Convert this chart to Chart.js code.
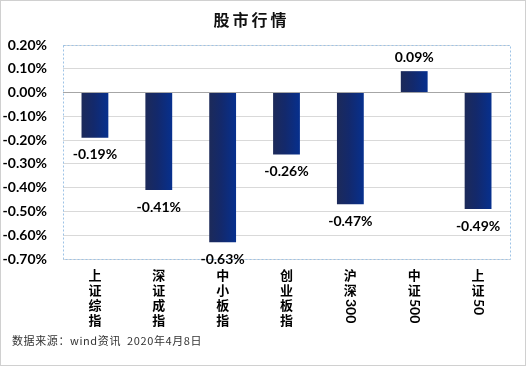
<!DOCTYPE html>
<html>
<head>
<meta charset="utf-8">
<script src="https://cdn.jsdelivr.net/npm/chart.js@4.4.1/dist/chart.umd.min.js"></script>
<style>
    html, body { margin: 0; padding: 0; background: #fff; }
    canvas { display: block; }
</style>
</head>
<body>
<canvas id="market-chart" width="526" height="366"></canvas>
<script>
// Chart data
const categories = ['上证综指', '深证成指', '中小板指', '创业板指', '沪深300', '中证500', '上证50'];
const changes = [-0.19, -0.41, -0.63, -0.26, -0.47, 0.09, -0.49];
const yTickMin = -0.7;
const yTickMax = 0.2;
const yTickStep = 0.1;
const chartTitle = '股市行情';
const footnote = '数据来源：wind资讯  2020年4月8日';

const CJK = '"Noto Sans CJK SC", "Noto Sans", sans-serif';
const LATIN = 'Lato, "Open Sans", sans-serif';

function fmtPct(v) {
    if (Math.abs(v) < 1e-9) v = 0;
    return v.toFixed(2) + '%';
}

function barGradient(context) {
    const chart = context.chart;
    if (!chart.chartArea) return '#0f2b78';
    const x = chart.scales.x.getPixelForValue(context.dataIndex);
    const g = chart.ctx.createLinearGradient(x - 14, 0, x + 14, 0);
    g.addColorStop(0, '#1d2a58');
    g.addColorStop(0.45, '#13296c');
    g.addColorStop(1, '#06308f');
    return g;
}

// Title, frame, dashed plot border, value labels, vertical category labels, footnote
const decorPlugin = {
    id: 'decor',
    beforeDraw(chart) {
        const ctx = chart.ctx;
        ctx.save();
        ctx.fillStyle = '#fff';
        ctx.fillRect(0, 0, chart.width, chart.height);
        ctx.restore();
    },
    afterDatasetsDraw(chart) {
        const ctx = chart.ctx;
        const area = chart.chartArea;
        ctx.save();

        // dashed plot-area border
        ctx.strokeStyle = '#9dc3e6';
        ctx.lineWidth = 1;
        ctx.setLineDash([2, 2]);
        ctx.strokeRect(Math.round(area.left) + 0.5, Math.round(area.top) + 0.5,
            Math.round(area.right - area.left), Math.round(area.bottom - area.top));
        ctx.setLineDash([]);

        // value labels
        const meta = chart.getDatasetMeta(0);
        ctx.fillStyle = '#000';
        ctx.font = 'bold 14px ' + LATIN;
        ctx.textAlign = 'center';
        meta.data.forEach((bar, i) => {
            const v = changes[i];
            if (v < 0) {
                ctx.textBaseline = 'top';
                ctx.fillText(fmtPct(v), bar.x, bar.y + 10);
            } else {
                ctx.textBaseline = 'bottom';
                ctx.fillText(fmtPct(v), bar.x, bar.y - 7);
            }
        });

        // stacked category labels
        categories.forEach((label, i) => {
            const x = chart.scales.x.getPixelForValue(i);
            let y = area.bottom + 9;
            const parts = label.match(/\d+|./g);
            parts.forEach(part => {
                if (/^\d+$/.test(part)) {
                    ctx.font = 'bold 14px ' + LATIN;
                    const w = ctx.measureText(part).width;
                    ctx.save();
                    ctx.translate(x, y + w / 2 + 1);
                    ctx.rotate(Math.PI / 2);
                    ctx.textAlign = 'center';
                    ctx.textBaseline = 'middle';
                    ctx.fillText(part, 0, 0);
                    ctx.restore();
                    y += w + 2;
                } else {
                    ctx.font = 'bold 13px ' + CJK;
                    ctx.textAlign = 'center';
                    ctx.textBaseline = 'middle';
                    ctx.fillText(part, x, y + 7);
                    y += 15;
                }
            });
        });

        // title
        ctx.font = 'bold 16px ' + CJK;
        ctx.textAlign = 'center';
        ctx.textBaseline = 'middle';
        ctx.fillStyle = '#111';
        const step = 19;
        const startX = 250 - step * (chartTitle.length - 1) / 2;
        [...chartTitle].forEach((ch, i) => ctx.fillText(ch, startX + i * step, 20));

        // footnote
        ctx.font = '11px ' + CJK;
        ctx.textAlign = 'left';
        ctx.fillStyle = '#333';
        ctx.letterSpacing = '0.6px';
        ctx.fillText(footnote, 12, 341);
        ctx.letterSpacing = '0px';

        // outer frame
        ctx.strokeStyle = '#d0d0d0';
        ctx.strokeRect(0.5, 0.5, chart.width - 1, chart.height - 1);
        ctx.restore();
    }
};

new Chart(document.getElementById('market-chart').getContext('2d'), {
    type: 'bar',
    data: {
        labels: categories,
        datasets: [{
            label: chartTitle,
            data: changes,
            backgroundColor: barGradient,
            borderWidth: 0,
            categoryPercentage: 1,
            barPercentage: 0.42
        }]
    },
    options: {
        responsive: false,
        animation: false,
        layout: { padding: { top: 45, right: 16, left: 0, bottom: 0 } },
        plugins: {
            legend: { display: false },
            title: { display: false },
            tooltip: { enabled: false }
        },
        scales: {
            x: {
                grid: { display: false },
                border: { display: false },
                ticks: { display: false },
                afterFit(scale) { scale.height = 107; }
            },
            y: {
                min: yTickMin,
                max: yTickMax,
                afterFit(scale) { scale.width = 63; },
                border: { display: false },
                grid: {
                    drawTicks: false,
                    color: (c) => Math.abs(c.tick.value) < 1e-9 ? '#a6a6a6' : '#d9d9d9'
                },
                ticks: {
                    stepSize: yTickStep,
                    padding: 16,
                    color: '#000',
                    font: { family: LATIN, size: 14, weight: 'bold' },
                    callback: (v) => fmtPct(v)
                }
            }
        }
    },
    plugins: [decorPlugin]
});
</script>
</body>
</html>
